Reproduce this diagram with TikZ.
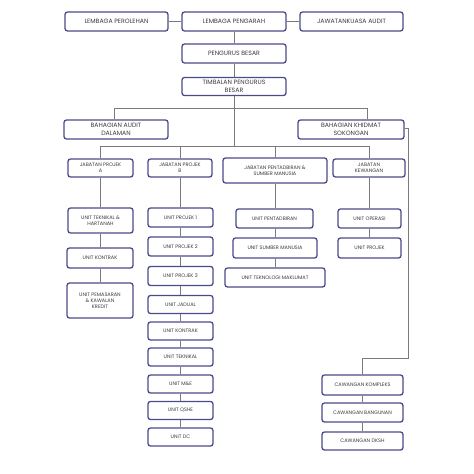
\documentclass[tikz,border=0pt]{standalone}
\usepackage{fontspec}
\setmainfont{Poppins}
\definecolor{boxc}{HTML}{4A4A8C}
\definecolor{linec}{HTML}{7A7A7A}
\definecolor{txtc}{HTML}{3A3A3A}
\begin{document}
\begin{tikzpicture}[x=1pt,y=-1pt,
  box/.style={draw=boxc,line width=1.3pt,rounded corners=2.5pt,fill=white,
    text=txtc,align=center,inner sep=1pt},
  big/.style={box,font=\fontsize{6.2}{7.5}\selectfont},
  small/.style={box,font=\fontsize{5}{6}\selectfont},
  conn/.style={draw=linec,line width=0.9pt}]
\useasboundingbox (0,0) rectangle (474,474);
\fill[white] (0,0) rectangle (474,474);
% top row
\node[big,minimum width=103pt,minimum height=19pt] (lp) at (116.5,21.5) {LEMBAGA PEROLEHAN};
\node[big,minimum width=104pt,minimum height=19pt] (lpg) at (234,21.5) {LEMBAGA PENGARAH};
\node[big,minimum width=103pt,minimum height=19pt] (ja) at (351.5,21.5) {JAWATANKUASA AUDIT};
\node[big,minimum width=104pt,minimum height=19pt] (pb) at (234,53.5) {PENGURUS BESAR};
\node[big,minimum width=104pt,minimum height=18pt] (tpb) at (234,86.5) {TIMBALAN PENGURUS\\BESAR};
\node[big,minimum width=104pt,minimum height=19pt] (bad) at (116,129.5) {BAHAGIAN AUDIT\\DALAMAN};
\node[big,minimum width=106pt,minimum height=19pt] (bks) at (351,129.5) {BAHAGIAN KHIDMAT\\SOKONGAN};
% jabatan
\node[small,minimum width=65pt,minimum height=18pt] (jpa) at (100.5,168) {JABATAN PROJEK\\A};
\node[small,minimum width=64pt,minimum height=18pt] (jpb) at (180,168) {JABATAN PROJEK\\B};
\node[small,minimum width=104pt,minimum height=25pt] (jpsm) at (275,170.5) {JABATAN PENTADBIRAN \&\\SUMBER MANUSIA};
\node[small,minimum width=72pt,minimum height=18pt] (jk) at (369,168) {JABATAN\\KEWANGAN};
% column A
\node[small,minimum width=65pt,minimum height=25pt] (uth) at (100.5,220.5) {UNIT TEKNIKAL \&\\HARTANAH};
\node[small,minimum width=66pt,minimum height=20pt] (uka) at (100,258) {UNIT KONTRAK};
\node[small,minimum width=66pt,minimum height=35pt] (upk) at (100,300.5) {UNIT PEMASARAN\\\& KAWALAN\\KREDIT};
% column B
\node[small,minimum width=65pt,minimum height=19pt] (up1) at (180.5,217.5) {UNIT PROJEK 1};
\node[small,minimum width=65pt,minimum height=19pt] (up2) at (180.5,246.5) {UNIT PROJEK 2};
\node[small,minimum width=65pt,minimum height=19pt] (up3) at (180.5,276) {UNIT PROJEK 3};
\node[small,minimum width=65pt,minimum height=18pt] (uj) at (180.5,304.5) {UNIT JADUAL};
\node[small,minimum width=65pt,minimum height=18pt] (ukb) at (180.5,331) {UNIT KONTRAK};
\node[small,minimum width=65pt,minimum height=18pt] (ut) at (180.5,357) {UNIT TEKNIKAL};
\node[small,minimum width=65pt,minimum height=18pt] (ume) at (180.5,384) {UNIT M\&E};
\node[small,minimum width=65pt,minimum height=18pt] (uq) at (180.5,410.5) {UNIT QSHE};
\node[small,minimum width=65pt,minimum height=18pt] (udc) at (180.5,437) {UNIT DC};
% column C
\node[small,minimum width=77pt,minimum height=19pt] (upt) at (274.5,218.5) {UNIT PENTADBIRAN};
\node[small,minimum width=84pt,minimum height=20pt] (usm) at (275,248) {UNIT SUMBER MANUSIA};
\node[small,minimum width=100pt,minimum height=19pt] (utm) at (275,277.5) {UNIT TEKNOLOGI MAKLUMAT};
% column D
\node[small,minimum width=63pt,minimum height=19pt] (uo) at (369.5,218.5) {UNIT OPERASI};
\node[small,minimum width=63pt,minimum height=20pt] (upj) at (369.5,248) {UNIT PROJEK};
% cawangan
\node[small,minimum width=81pt,minimum height=20pt] (ck) at (362.5,385) {CAWANGAN KOMPLEKS};
\node[small,minimum width=81pt,minimum height=19pt] (cb) at (362.5,412.5) {CAWANGAN BANGUNAN};
\node[small,minimum width=81pt,minimum height=18pt] (cd) at (362.5,441) {CAWANGAN DKSH};
% bus coordinates
\coordinate (b1l) at (114,108);
\coordinate (b1r) at (367,108);
\coordinate (b2m) at (234,146);
\coordinate (b2a) at (100.5,146);
\coordinate (b2b) at (180.5,146);
\coordinate (b2c) at (275,146);
\coordinate (b2d) at (369,146);
\coordinate (rt) at (408,128);
\coordinate (rb) at (408,358);
\coordinate (ct) at (362.5,358);
% connectors
\path[conn] (lp.east) -- (lpg.west);
\path[conn] (lpg.east) -- (ja.west);
\path[conn] (lpg.south) -- (pb.north);
\path[conn] (pb.south) -- (tpb.north);
\path[conn] (tpb.south) -- (b2m);
\path[conn] (b1l) -- (b1r);
\path[conn] (b1l) -- (b1l |- bad.north);
\path[conn] (b1r) -- (b1r |- bks.north);
\path[conn] (b2a) -- (b2d);
\path[conn] (b2a) -- (jpa.north);
\path[conn] (b2b) -- (b2b |- jpb.north);
\path[conn] (b2c) -- (jpsm.north);
\path[conn] (b2d) -- (b2d |- jk.north);
\path[conn] (jpa.south) -- (uth.north);
\path[conn] (uth.south) -- (uka.north -| uth.south);
\path[conn] (uka.south) -- (upk.north);
\path[conn] (jpb.south -| up1.north) -- (up1.north);
\path[conn] (up1) -- (up2);
\path[conn] (up2.south) -- (up3.north);
\path[conn] (up3.south) -- (uj.north);
\path[conn] (uj.south) -- (ukb.north);
\path[conn] (ukb.south) -- (ut.north);
\path[conn] (ut.south) -- (ume.north);
\path[conn] (ume.south) -- (uq.north);
\path[conn] (uq.south) -- (udc.north);
\path[conn] (jpsm.south) -- (upt.north -| jpsm.south);
\path[conn] (upt.south -| usm.north) -- (usm.north);
\path[conn] (usm.south) -- (utm.north);
\path[conn] (jk.south) -- (uo.north -| jk.south);
\path[conn] (uo.south) -- (upj.north);
\path[conn] (bks.east |- rt) -- (rt) -- (rb) -- (ct) -- (ck.north);
\path[conn] (ck.south) -- (cb.north);
\path[conn] (cb.south) -- (cd.north);
\end{tikzpicture}
\end{document}
